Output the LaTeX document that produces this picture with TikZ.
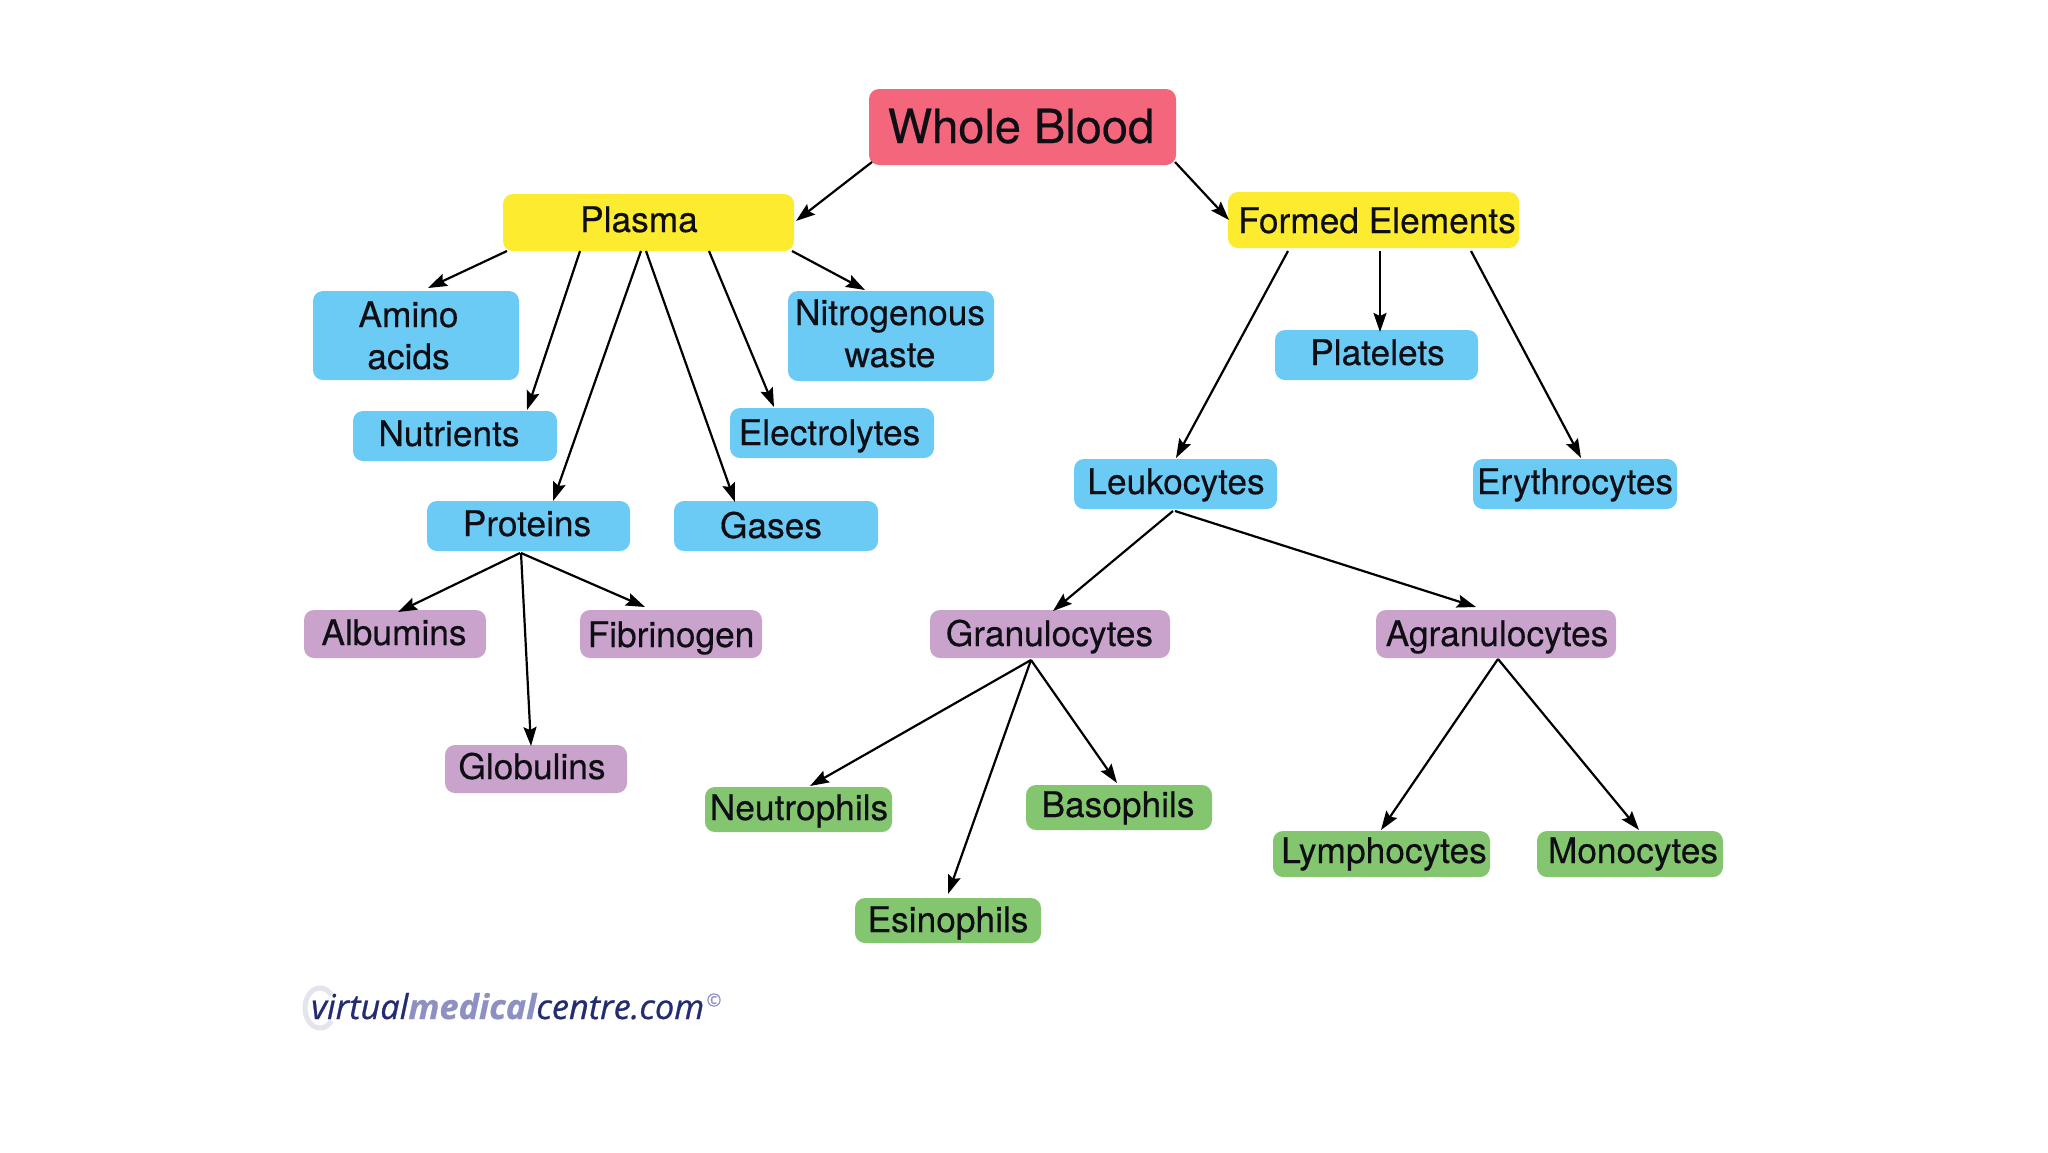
\documentclass[tikz,border=0pt]{standalone}
\usepackage{fontspec}
\setmainfont[RawFeature={embolden=0.35}]{TeX Gyre Heros}
\newfontfamily\logofont[RawFeature={embolden=0.7}]{Open Sans}
\usetikzlibrary{arrows.meta}
\definecolor{cred}{HTML}{F3667C}
\definecolor{cyellow}{HTML}{FCEB2E}
\definecolor{cblue}{HTML}{6BCBF5}
\definecolor{cpurple}{HTML}{C9A3CB}
\definecolor{cgreen}{HTML}{84C66F}
\definecolor{logodark}{HTML}{232C70}
\definecolor{logolight}{HTML}{8E90C2}
\definecolor{logoring}{HTML}{E3E5EC}
\definecolor{inkc}{HTML}{0E0E14}
\tikzset{
  bx/.style={rounded corners=10pt,inner sep=0pt,text=inkc,font=\fontsize{35.3pt}{42pt}\selectfont},
  redbox/.style={bx,fill=cred,font=\fontsize{47pt}{54pt}\selectfont},
  yellowbox/.style={bx,fill=cyellow},
  bluebox/.style={bx,fill=cblue},
  purplebox/.style={bx,fill=cpurple},
  greenbox/.style={bx,fill=cgreen},
  conn/.style={line width=2.2pt,draw=black,-{Stealth[length=19pt,width=13pt,inset=3pt]},shorten >=0pt}
}
% name, style, x1,y1,x2,y2, text centre x, baseline y, text
\newcommand{\bxn}[9]{%
  \pgfmathsetmacro{\cxv}{(#3+#5)/2}%
  \pgfmathsetmacro{\cyv}{(#4+#6)/2}%
  \pgfmathsetmacro{\wv}{#5-#3}%
  \pgfmathsetmacro{\hv}{#6-#4}%
  \pgfmathsetmacro{\hsv}{2*(#7-\cxv)}%
  \pgfmathsetmacro{\rsv}{\cyv-#8}%
  \node[#2,minimum width=\wv pt,minimum height=\hv pt] (#1) at (\cxv,\cyv)
    {\makebox[0pt]{\hspace*{\hsv pt}\raisebox{\rsv pt}[0pt][0pt]{#9}}};%
}
\newcommand{\twol}[2]{\makebox[0pt]{\raisebox{42pt}[0pt][0pt]{#1}}\makebox[0pt]{#2}}
\newcommand{\lk}[6]{\draw[conn] ([shift={(#2,#3)}]#1.center) -- ([shift={(#5,#6)}]#4.center);}
\begin{document}
\begin{tikzpicture}[x=1pt,y=-1pt]
\useasboundingbox (0,0) rectangle (2048,1152);
\fill[white] (0,0) rectangle (2048,1152);
\bxn{wb}{redbox}{869}{89}{1176}{165}{1021}{143}{Whole Blood}
\bxn{plasma}{yellowbox}{503}{194}{794}{251}{639}{232}{Plasma}
\bxn{formed}{yellowbox}{1228}{192}{1519}{248}{1377}{233}{Formed Elements}
\bxn{amino}{bluebox}{313}{291}{519}{380}{408.5}{369}{\twol{Amino}{acids}}
\bxn{nitro}{bluebox}{788}{291}{994}{381}{890}{367}{\twol{Nitrogenous}{waste}}
\bxn{nutr}{bluebox}{353}{411}{557}{461}{449}{446}{Nutrients}
\bxn{elec}{bluebox}{730}{408}{934}{458}{829.5}{445}{Electrolytes}
\bxn{prot}{bluebox}{427}{501}{630}{551}{527}{536}{Proteins}
\bxn{gases}{bluebox}{674}{501}{878}{551}{771}{538}{Gases}
\bxn{plate}{bluebox}{1275}{330}{1478}{380}{1377.5}{365}{Platelets}
\bxn{leuk}{bluebox}{1074}{459}{1277}{509}{1176}{494}{Leukocytes}
\bxn{eryt}{bluebox}{1473}{459}{1677}{509}{1575}{494}{Erythrocytes}
\bxn{albu}{purplebox}{304}{610}{486}{658}{394}{645}{Albumins}
\bxn{fibr}{purplebox}{580}{610}{762}{658}{671}{647}{Fibrinogen}
\bxn{glob}{purplebox}{445}{745}{627}{793}{532}{779}{Globulins}
\bxn{gran}{purplebox}{930}{610}{1170}{658}{1049.5}{646}{Granulocytes}
\bxn{agra}{purplebox}{1376}{610}{1616}{658}{1497}{646}{Agranulocytes}
\bxn{neut}{greenbox}{705}{787}{892}{832}{799}{820}{Neutrophils}
\bxn{baso}{greenbox}{1026}{785}{1212}{830}{1118}{817}{Basophils}
\bxn{esin}{greenbox}{855}{898}{1041}{943}{948}{932}{Esinophils}
\bxn{lymp}{greenbox}{1273}{831}{1490}{877}{1384}{863}{Lymphocytes}
\bxn{mono}{greenbox}{1537}{831}{1723}{877}{1633}{863}{Monocytes}
\lk{wb}{-150.5}{35}{plasma}{147.5}{-1.5}
\lk{wb}{152.5}{35}{formed}{-144.5}{0}
\lk{plasma}{-141.5}{28.5}{amino}{12}{-47.5}
\lk{plasma}{-68.5}{28.5}{nutr}{72}{-26}
\lk{plasma}{-7.5}{28.5}{prot}{24.5}{-25}
\lk{plasma}{-2.5}{28.5}{gases}{-41}{-24}
\lk{plasma}{60.5}{28.5}{elec}{-58}{-26}
\lk{plasma}{143.5}{28.5}{nitro}{-26}{-46}
\lk{formed}{-85.5}{31}{leuk}{0.5}{-26}
\lk{formed}{6.5}{31}{plate}{3.5}{-23}
\lk{formed}{97.5}{31}{eryt}{6}{-26}
\lk{leuk}{-2.5}{27}{gran}{3}{-23}
\lk{leuk}{-0.5}{27}{agra}{-20}{-27}
\lk{prot}{-8.5}{27}{albu}{3}{-22}
\lk{prot}{-7.5}{27}{fibr}{-26}{-27}
\lk{prot}{-7.5}{27}{glob}{-5}{-23}
\lk{gran}{-19}{26}{neut}{11.5}{-23.5}
\lk{gran}{-19}{26}{esin}{0}{-26.5}
\lk{gran}{-19}{26}{baso}{-2}{-24.5}
\lk{agra}{2}{25}{lymp}{-0.5}{-24}
\lk{agra}{2}{25}{mono}{9}{-24}
% logo
\draw[logoring,line width=5pt] (320,1008) ++(40:15pt and 20pt) arc[start angle=40,end angle=320,x radius=15pt,y radius=20pt];
\node[anchor=base west,inner sep=0pt] (logo) at (311,1019)
  {\resizebox{393pt}{!}{\logofont\itshape\fontsize{36pt}{40pt}\selectfont\textcolor{logodark}{virtual}\textcolor{logolight}{\bfseries medical}\textcolor{logodark}{centre.com}}};
\node[anchor=center,inner sep=0pt,text=logolight] (copy) at (714,1000) {\logofont\fontsize{18pt}{18pt}\selectfont ©};
\end{tikzpicture}
\end{document}
